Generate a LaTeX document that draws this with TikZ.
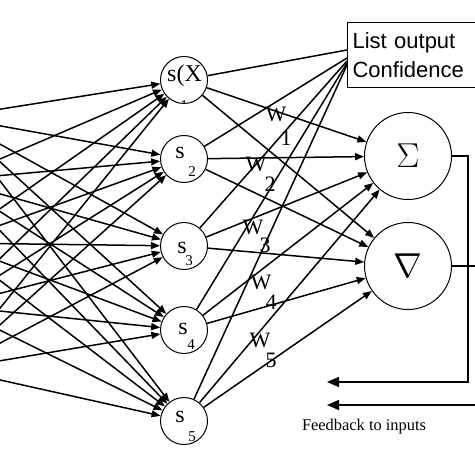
\documentclass[tikz,border=0pt]{standalone}
\usepackage{fontspec}
\setmainfont{Liberation Serif}
\newfontfamily\boxfont{Liberation Sans}
\usepackage{tikz}
\usetikzlibrary{arrows.meta}

\begin{document}
\begin{tikzpicture}[x=0.5pt, y=-0.5pt,
    hidden/.style={draw, circle, line width=0.5pt, minimum size=23.5pt, inner sep=0pt},
    summer/.style={draw, circle, line width=0.5pt, minimum size=43.5pt, inner sep=0pt, font=\fontsize{18}{20}\selectfont},
    lbl/.style={inner sep=0pt, font=\fontsize{12}{14}\selectfont},
    sub/.style={inner sep=0pt, font=\fontsize{7.5}{9}\selectfont},
    wlbl/.style={inner sep=0pt, font=\fontsize{11}{13}\selectfont},
    link/.style={line width=0.75pt},
    >={Triangle[length=4.5pt, width=3.5pt]}]
  \useasboundingbox (0,0) rectangle (474,474);
  % inputs, left of the visible part
  \foreach \i/\y in {1/117, 2/180, 3/243, 4/306, 5/369}
    \coordinate (in\i) at (-49,\y);
  % hidden layer
  \node[hidden, path picture={\node[sub] (s1n) at ([yshift=-0.8pt]path picture bounding box.south) {1};}] (s1) at (184,80) {};
  \node[lbl] (s1txt) at (184.5,76) {s(X};
  \foreach \n/\y/\sx/\sy/\dx/\dy in {2/159/-4/-6/8/13, 3/246/-2/2/5/15, 4/330/-1/-1/7/15, 5/421/-4/-4/8/16} {
    \node[hidden] (s\n) at (184,\y) {};
    \node[lbl] (s\n txt) at ([shift={(\sx,\sy)}]s\n.center) {s};
    \node[sub] (s\n n) at ([shift={(\dx,\dy)}]s\n.center) {\n};
  }
  % outputs
  \node[summer] (sum) at (408,156) {$\Sigma$};
  \node[summer] (nab) at (408,266) {$\nabla$};
  \node[draw, line width=0.6pt, font=\boxfont\fontsize{11}{14.5}\selectfont, align=left, text width=60pt,
        minimum height=32.5pt, inner sep=2.5pt, anchor=north west] (out) at (347,22) {List output\\Confidence};
  \foreach \i/\y in {1/50, 2/58, 3/61, 4/63, 5/65}
    \coordinate (o\i) at (347,\y);
  % weights
  \foreach \n/\wx/\wy/\nx/\ny in {1/276/114/286/138, 2/256/164/270/184, 3/253/227/265/245, 4/261/282/271/302, 5/260/340/271/360} {
    \node[wlbl] (w\n) at (\wx,\wy) {W};
    \node[wlbl] (w\n n) at (\nx,\ny) {\n};
  }
  % connections
  \foreach \i in {1,...,5}
    \foreach \j in {1,...,5}
      \draw[link, ->] (in\i) -- (s\j);
  \foreach \i in {1,...,5} {
    \draw[link] (s\i) -- (o\i);
    \draw[link, ->] (s\i) -- (sum);
    \draw[link, ->] (s\i) -- (nab);
  }
  % feedback
  \coordinate (c1) at (468,0);
  \coordinate (c2) at (478,0);
  \coordinate (fb1) at (327,382);
  \coordinate (fb2) at (327,405);
  \draw[link, -{Triangle[length=6pt, width=5pt]}] (sum.east) -| (c1 |- fb1) -- (fb1);
  \draw[link, -{Triangle[length=6pt, width=5pt]}] (nab.east) -| (c2 |- fb2) -- (fb2);
  \node[inner sep=0pt, font=\fontsize{8.2}{10}\selectfont] (fbtxt) at (364,427) {Feedback to inputs};
\end{tikzpicture}
\end{document}
